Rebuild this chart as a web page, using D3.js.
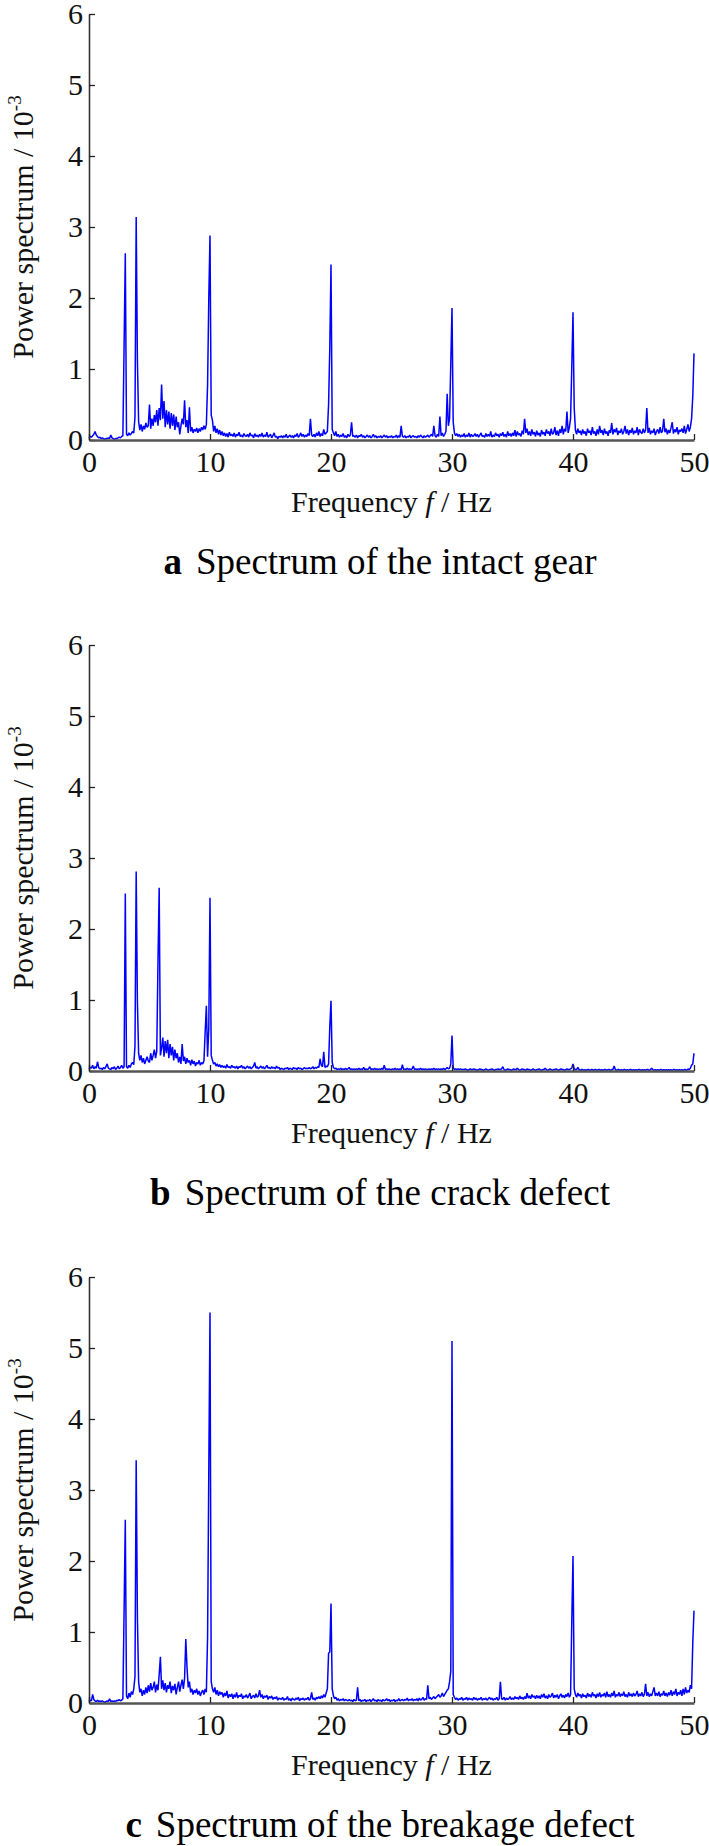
<!DOCTYPE html>
<html>
<head>
<meta charset="utf-8">
<script src="https://cdn.jsdelivr.net/npm/d3@7"></script>
<style>
  body { margin: 0; background: #fff; }
  svg { display: block; }
</style>
</head>
<body>
<svg id="fig" width="709" height="1846"></svg>
<script>
// power spectrum values (x10^-3), one value every 0.1 Hz from 0 to 50 Hz
// each row = one hertz (x.0 ... x.9)
const spectrumIntact = [
  0.03,0.05,0.04,0.06,0.08,0.12,0.07,0.05,0.03,0.04,
  0.02,0.03,0.02,0.01,0.02,0.02,0.03,0.02,0.07,0.03,
  0.02,0.01,0.02,0.02,0.03,0.04,0.03,0.05,0.06,1.33,
  2.63,0.08,0.06,0.10,0.07,0.09,0.12,0.10,0.32,3.14,
  1.12,0.26,0.14,0.22,0.12,0.20,0.15,0.24,0.18,0.20,
  0.50,0.16,0.30,0.20,0.35,0.25,0.42,0.20,0.45,0.28,
  0.78,0.30,0.55,0.18,0.42,0.22,0.40,0.16,0.38,0.20,
  0.36,0.14,0.33,0.18,0.25,0.08,0.20,0.30,0.22,0.56,
  0.18,0.28,0.10,0.46,0.12,0.18,0.10,0.15,0.12,0.17,
  0.10,0.16,0.12,0.18,0.14,0.20,0.15,0.22,0.78,2.00,
  2.88,0.35,0.28,0.12,0.20,0.10,0.16,0.08,0.14,0.07,
  0.12,0.06,0.10,0.05,0.09,0.04,0.11,0.06,0.08,0.05,
  0.10,0.04,0.08,0.06,0.11,0.05,0.07,0.04,0.09,0.06,
  0.05,0.08,0.04,0.10,0.06,0.07,0.03,0.09,0.05,0.07,
  0.04,0.08,0.05,0.10,0.04,0.07,0.05,0.11,0.04,0.06,
  0.08,0.03,0.06,0.10,0.04,0.05,0.02,0.05,0.04,0.06,
  0.03,0.06,0.04,0.08,0.03,0.05,0.07,0.04,0.06,0.03,
  0.07,0.05,0.09,0.04,0.06,0.10,0.05,0.08,0.04,0.07,
  0.05,0.09,0.06,0.30,0.07,0.05,0.08,0.04,0.10,0.06,
  0.12,0.05,0.09,0.06,0.15,0.08,0.10,0.12,0.50,1.30,
  2.47,0.15,0.10,0.06,0.12,0.05,0.08,0.04,0.07,0.05,
  0.09,0.04,0.06,0.03,0.08,0.05,0.07,0.25,0.05,0.06,
  0.04,0.07,0.03,0.06,0.05,0.08,0.04,0.06,0.03,0.05,
  0.07,0.04,0.06,0.03,0.05,0.08,0.04,0.06,0.03,0.05,
  0.04,0.06,0.03,0.05,0.07,0.04,0.06,0.03,0.05,0.04,
  0.06,0.03,0.05,0.04,0.07,0.03,0.06,0.04,0.20,0.05,
  0.04,0.06,0.03,0.05,0.04,0.07,0.03,0.05,0.06,0.04,
  0.05,0.03,0.06,0.04,0.07,0.05,0.03,0.06,0.04,0.05,
  0.07,0.04,0.06,0.08,0.05,0.20,0.06,0.04,0.08,0.05,
  0.33,0.06,0.10,0.05,0.08,0.12,0.65,0.20,0.30,1.08,
  1.86,0.25,0.10,0.06,0.09,0.05,0.08,0.04,0.07,0.05,
  0.09,0.04,0.07,0.05,0.10,0.04,0.08,0.05,0.06,0.09,
  0.05,0.08,0.04,0.07,0.10,0.05,0.06,0.04,0.09,0.05,
  0.08,0.05,0.12,0.04,0.07,0.05,0.10,0.06,0.08,0.04,
  0.09,0.06,0.11,0.05,0.08,0.04,0.12,0.06,0.09,0.05,
  0.10,0.06,0.14,0.05,0.12,0.07,0.09,0.05,0.13,0.08,
  0.30,0.10,0.16,0.07,0.12,0.06,0.15,0.08,0.11,0.05,
  0.13,0.07,0.10,0.05,0.14,0.08,0.11,0.06,0.15,0.09,
  0.12,0.06,0.16,0.08,0.10,0.18,0.07,0.13,0.06,0.15,
  0.10,0.20,0.08,0.16,0.12,0.40,0.10,0.18,0.30,1.03,
  1.80,0.45,0.14,0.08,0.16,0.10,0.13,0.07,0.15,0.09,
  0.12,0.06,0.16,0.10,0.13,0.07,0.18,0.09,0.12,0.06,
  0.15,0.08,0.20,0.10,0.14,0.07,0.16,0.09,0.12,0.06,
  0.14,0.10,0.24,0.08,0.15,0.11,0.17,0.07,0.13,0.10,
  0.16,0.08,0.12,0.20,0.09,0.15,0.07,0.14,0.10,0.17,
  0.08,0.13,0.10,0.18,0.07,0.15,0.11,0.09,0.16,0.10,
  0.14,0.45,0.10,0.17,0.08,0.13,0.10,0.16,0.07,0.12,
  0.15,0.09,0.18,0.10,0.13,0.30,0.11,0.16,0.08,0.14,
  0.10,0.17,0.25,0.09,0.15,0.11,0.18,0.08,0.14,0.12,
  0.16,0.10,0.20,0.09,0.15,0.22,0.12,0.18,0.30,0.62,
  1.22
];

const spectrumCrack = [
  0.03,0.05,0.04,0.08,0.03,0.06,0.04,0.13,0.05,0.03,
  0.04,0.02,0.05,0.03,0.06,0.10,0.04,0.03,0.02,0.05,
  0.03,0.06,0.02,0.04,0.07,0.03,0.05,0.08,0.04,0.06,
  2.50,0.06,0.04,0.08,0.05,0.10,0.12,0.09,0.35,2.81,
  0.97,0.25,0.15,0.22,0.12,0.18,0.10,0.15,0.20,0.14,
  0.12,0.25,0.15,0.22,0.30,0.18,0.28,1.53,2.58,0.22,
  0.32,0.47,0.20,0.42,0.25,0.44,0.18,0.38,0.22,0.34,
  0.15,0.30,0.18,0.25,0.12,0.20,0.10,0.38,0.14,0.20,
  0.10,0.18,0.12,0.15,0.08,0.16,0.10,0.14,0.07,0.12,
  0.10,0.15,0.08,0.12,0.10,0.14,0.55,0.92,0.20,0.60,
  2.44,0.22,0.15,0.10,0.12,0.07,0.10,0.06,0.09,0.05,
  0.08,0.05,0.07,0.04,0.09,0.05,0.06,0.04,0.08,0.05,
  0.06,0.04,0.07,0.03,0.06,0.05,0.08,0.04,0.06,0.03,
  0.05,0.07,0.04,0.06,0.03,0.05,0.07,0.12,0.04,0.06,
  0.03,0.05,0.07,0.04,0.06,0.03,0.05,0.08,0.04,0.05,
  0.03,0.06,0.04,0.05,0.03,0.07,0.04,0.05,0.02,0.04,
  0.03,0.02,0.04,0.03,0.05,0.02,0.04,0.03,0.02,0.05,
  0.03,0.04,0.02,0.05,0.03,0.04,0.02,0.03,0.05,0.03,
  0.04,0.03,0.05,0.03,0.04,0.06,0.03,0.05,0.04,0.06,
  0.05,0.17,0.08,0.06,0.27,0.05,0.07,0.06,0.10,0.62,
  0.99,0.12,0.05,0.03,0.04,0.02,0.03,0.02,0.04,0.02,
  0.03,0.02,0.04,0.02,0.03,0.05,0.02,0.03,0.02,0.03,
  0.02,0.03,0.02,0.04,0.02,0.03,0.02,0.05,0.02,0.03,
  0.02,0.03,0.06,0.02,0.03,0.02,0.04,0.02,0.03,0.02,
  0.03,0.02,0.04,0.02,0.08,0.02,0.03,0.02,0.03,0.02,
  0.02,0.03,0.02,0.04,0.02,0.03,0.02,0.03,0.02,0.09,
  0.02,0.03,0.02,0.04,0.02,0.03,0.02,0.03,0.07,0.02,
  0.03,0.02,0.03,0.02,0.04,0.02,0.03,0.02,0.03,0.02,
  0.02,0.03,0.02,0.03,0.02,0.04,0.02,0.03,0.02,0.03,
  0.02,0.03,0.02,0.04,0.02,0.03,0.05,0.03,0.04,0.10,
  0.50,0.05,0.02,0.03,0.02,0.03,0.02,0.03,0.02,0.02,
  0.02,0.03,0.02,0.01,0.02,0.03,0.02,0.02,0.03,0.02,
  0.02,0.01,0.02,0.03,0.02,0.02,0.01,0.02,0.03,0.02,
  0.01,0.02,0.02,0.03,0.02,0.01,0.02,0.02,0.03,0.02,
  0.02,0.03,0.06,0.02,0.01,0.02,0.03,0.02,0.02,0.01,
  0.02,0.03,0.02,0.02,0.04,0.02,0.01,0.02,0.03,0.02,
  0.02,0.01,0.03,0.02,0.02,0.01,0.02,0.03,0.02,0.01,
  0.02,0.02,0.03,0.02,0.01,0.02,0.02,0.04,0.02,0.01,
  0.02,0.03,0.02,0.01,0.02,0.02,0.03,0.02,0.01,0.02,
  0.03,0.02,0.02,0.01,0.02,0.03,0.02,0.02,0.03,0.04,
  0.10,0.03,0.02,0.02,0.05,0.02,0.01,0.02,0.02,0.01,
  0.02,0.01,0.02,0.02,0.01,0.02,0.02,0.01,0.02,0.02,
  0.01,0.02,0.02,0.01,0.02,0.01,0.02,0.02,0.01,0.02,
  0.02,0.01,0.02,0.02,0.07,0.02,0.01,0.02,0.02,0.01,
  0.02,0.01,0.02,0.02,0.01,0.02,0.01,0.02,0.02,0.01,
  0.02,0.01,0.02,0.01,0.02,0.02,0.01,0.02,0.01,0.02,
  0.01,0.02,0.02,0.01,0.02,0.04,0.02,0.01,0.02,0.01,
  0.02,0.01,0.02,0.02,0.01,0.02,0.01,0.02,0.01,0.02,
  0.01,0.02,0.01,0.02,0.02,0.01,0.02,0.01,0.02,0.01,
  0.02,0.01,0.02,0.02,0.01,0.03,0.02,0.04,0.08,0.10,
  0.25
];

const spectrumBreakage = [
  0.02,0.04,0.03,0.12,0.05,0.03,0.02,0.04,0.02,0.03,
  0.02,0.03,0.02,0.01,0.02,0.03,0.02,0.06,0.02,0.03,
  0.02,0.03,0.02,0.04,0.03,0.05,0.03,0.04,0.06,1.30,
  2.58,0.10,0.06,0.14,0.08,0.16,0.12,0.20,0.37,3.42,
  1.20,0.30,0.15,0.20,0.10,0.18,0.12,0.22,0.14,0.25,
  0.16,0.28,0.18,0.22,0.30,0.15,0.26,0.18,0.40,0.65,
  0.20,0.32,0.18,0.28,0.15,0.25,0.20,0.30,0.14,0.24,
  0.18,0.27,0.12,0.22,0.30,0.16,0.25,0.33,0.20,0.35,
  0.90,0.50,0.22,0.30,0.15,0.20,0.12,0.18,0.14,0.20,
  0.12,0.17,0.10,0.15,0.18,0.12,0.20,0.15,0.93,3.27,
  5.50,0.30,0.20,0.15,0.22,0.12,0.18,0.10,0.16,0.12,
  0.15,0.08,0.14,0.10,0.17,0.07,0.12,0.09,0.13,0.06,
  0.12,0.08,0.15,0.07,0.11,0.09,0.13,0.06,0.10,0.08,
  0.12,0.07,0.10,0.14,0.06,0.09,0.11,0.07,0.13,0.08,
  0.10,0.18,0.08,0.12,0.06,0.10,0.08,0.11,0.05,0.09,
  0.07,0.10,0.05,0.08,0.06,0.09,0.04,0.07,0.06,0.05,
  0.08,0.04,0.06,0.05,0.09,0.04,0.06,0.03,0.07,0.05,
  0.04,0.07,0.05,0.08,0.03,0.06,0.05,0.07,0.04,0.06,
  0.05,0.08,0.04,0.06,0.15,0.05,0.07,0.04,0.08,0.06,
  0.09,0.06,0.10,0.07,0.12,0.08,0.14,0.20,0.70,0.72,
  1.40,0.20,0.10,0.06,0.08,0.04,0.06,0.03,0.05,0.04,
  0.06,0.03,0.05,0.04,0.03,0.05,0.03,0.04,0.02,0.05,
  0.03,0.04,0.22,0.03,0.05,0.02,0.04,0.03,0.05,0.02,
  0.04,0.03,0.05,0.02,0.04,0.06,0.03,0.04,0.02,0.05,
  0.03,0.04,0.02,0.05,0.03,0.04,0.06,0.03,0.05,0.02,
  0.04,0.03,0.05,0.02,0.04,0.03,0.06,0.03,0.04,0.05,
  0.03,0.05,0.04,0.07,0.03,0.05,0.04,0.06,0.03,0.05,
  0.04,0.06,0.03,0.07,0.04,0.05,0.08,0.04,0.06,0.05,
  0.25,0.06,0.08,0.05,0.07,0.09,0.06,0.08,0.10,0.12,
  0.08,0.10,0.14,0.09,0.12,0.15,0.18,0.20,0.30,0.45,
  5.10,0.12,0.08,0.05,0.07,0.04,0.06,0.05,0.08,0.04,
  0.06,0.05,0.08,0.04,0.07,0.05,0.06,0.04,0.08,0.05,
  0.07,0.04,0.06,0.05,0.08,0.04,0.06,0.05,0.07,0.04,
  0.06,0.08,0.05,0.07,0.04,0.06,0.05,0.08,0.04,0.06,
  0.30,0.06,0.05,0.08,0.04,0.07,0.05,0.06,0.09,0.05,
  0.07,0.05,0.09,0.06,0.08,0.05,0.10,0.06,0.08,0.05,
  0.09,0.06,0.14,0.07,0.10,0.06,0.12,0.08,0.10,0.06,
  0.11,0.07,0.10,0.06,0.12,0.08,0.13,0.07,0.10,0.06,
  0.12,0.08,0.10,0.14,0.07,0.11,0.08,0.12,0.06,0.10,
  0.13,0.08,0.11,0.07,0.12,0.09,0.14,0.08,0.12,1.15,
  2.07,0.20,0.12,0.08,0.14,0.10,0.12,0.07,0.13,0.09,
  0.11,0.07,0.14,0.09,0.12,0.08,0.15,0.10,0.12,0.07,
  0.13,0.09,0.15,0.08,0.12,0.10,0.14,0.08,0.16,0.09,
  0.12,0.08,0.14,0.10,0.17,0.08,0.12,0.10,0.15,0.09,
  0.13,0.10,0.16,0.09,0.12,0.08,0.15,0.10,0.13,0.09,
  0.14,0.10,0.12,0.17,0.09,0.13,0.10,0.15,0.09,0.12,
  0.27,0.10,0.15,0.09,0.13,0.10,0.16,0.22,0.10,0.14,
  0.10,0.16,0.09,0.13,0.11,0.17,0.10,0.14,0.09,0.15,
  0.11,0.18,0.10,0.16,0.12,0.20,0.10,0.15,0.12,0.18,
  0.10,0.20,0.12,0.22,0.14,0.18,0.15,0.25,0.20,0.85,
  1.30
];

const panelLetters = ["a", "b", "c"];
const panelCaptions = ["Spectrum of the intact gear", "Spectrum of the crack defect", "Spectrum of the breakage defect"];
const xTicks = [0, 10, 20, 30, 40, 50];
const yTicks = [0, 1, 2, 3, 4, 5, 6];
const freqStep = 0.1;

const series = [spectrumIntact, spectrumCrack, spectrumBreakage];

const svg = d3.select("#fig");
const font = "'Liberation Serif', 'Times New Roman', serif";

const left = 89, plotW = 605, plotH = 426;
const tops = [14, 645, 1277];

const x = d3.scaleLinear().domain([0, 50]).range([left, left + plotW]);

series.forEach(function(values, i) {
  const top = tops[i];
  const y = d3.scaleLinear().domain([0, 6]).range([top + plotH, top]);

  const g = svg.append("g");

  const line = d3.line()
    .x((d, j) => x(j * freqStep))
    .y(d => y(d));

  g.append("path")
    .datum(values)
    .attr("fill", "none")
    .attr("stroke", "#0000ff")
    .attr("stroke-width", 1.5)
    .attr("stroke-linejoin", "bevel")
    .attr("d", line);

  // axes, MATLAB style: inward ticks, no box
  const yAxis = g.append("g")
    .attr("transform", "translate(" + left + ",0)")
    .call(d3.axisLeft(y).tickValues(yTicks).tickFormat(d3.format("d"))
      .tickSizeInner(-6).tickSizeOuter(0).tickPadding(6));

  const xAxis = g.append("g")
    .attr("transform", "translate(0," + (top + plotH) + ")")
    .call(d3.axisBottom(x).tickValues(xTicks).tickFormat(d3.format("d"))
      .tickSizeInner(-6).tickSizeOuter(0).tickPadding(11));

  [yAxis, xAxis].forEach(function(ax) {
    ax.select(".domain").attr("stroke", "#333").attr("stroke-width", 1.6);
    ax.selectAll(".tick line").attr("stroke", "#222").attr("stroke-width", 1.3);
    ax.selectAll(".tick text")
      .attr("font-family", font)
      .attr("font-size", 30)
      .attr("fill", "#111");
  });
  xAxis.select(".domain").attr("stroke", "#555").attr("stroke-width", 2.4);

  // x label
  const xl = g.append("text")
    .attr("x", left + plotW / 2)
    .attr("y", top + plotH + 72)
    .attr("text-anchor", "middle")
    .attr("font-family", font)
    .attr("font-size", 30)
    .attr("fill", "#111");
  xl.append("tspan").text("Frequency ");
  xl.append("tspan").attr("font-style", "italic").text("f");
  xl.append("tspan").text(" / Hz");

  // y label
  const yl = g.append("text")
    .attr("transform", "translate(33," + (top + plotH / 2) + ") rotate(-90)")
    .attr("text-anchor", "middle")
    .attr("font-family", font)
    .attr("font-size", 30)
    .attr("fill", "#111");
  yl.append("tspan").text("Power spectrum / 10");
  yl.append("tspan").attr("font-size", 19).attr("dy", -12).text("-3");

  // caption
  const cap = g.append("text")
    .attr("x", 380)
    .attr("y", top + plotH + 134)
    .attr("text-anchor", "middle")
    .attr("font-family", font)
    .attr("font-size", 37)
    .attr("fill", "#000");
  cap.append("tspan").attr("font-weight", "bold").text(panelLetters[i]);
  cap.append("tspan").attr("dx", 14).text(panelCaptions[i]);
});
</script>
</body>
</html>
